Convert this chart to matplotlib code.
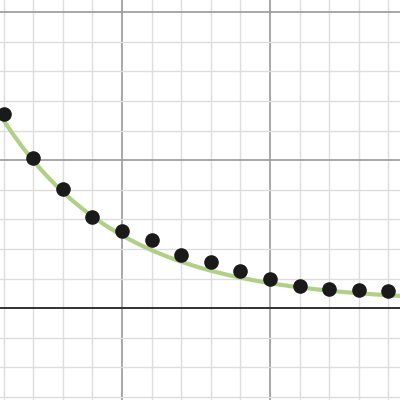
import numpy as np
import matplotlib
matplotlib.use("Agg")
import matplotlib.pyplot as plt

x_pts = [1, 2, 3, 4, 5, 6, 7, 8, 9, 10, 11, 12, 13, 14]
y_pts = [6.55, 5.07, 4.02, 3.07, 2.60, 2.30, 1.79, 1.55, 1.25, 0.98, 0.74, 0.64, 0.61, 0.57]
fit_a, fit_b, fit_c = 7.9, 0.25, 0.2

fig = plt.figure(figsize=(4, 4), dpi=100)
ax = fig.add_axes([0, 0, 1, 1])
xmin, xmax = 0.88, 0.88 + 400/29.6
ymin, ymax = -3.1, -3.1 + 400/29.6
ax.set_xlim(xmin, xmax); ax.set_ylim(ymin, ymax)
for v in range(0, 16):
    ax.axvline(v, color='#999999' if v % 5 == 0 else '#dddddd', lw=1.2 if v % 5 == 0 else 1, zorder=0)
for v in range(-4, 12):
    if v == 0:
        ax.axhline(0, color='#222222', lw=1.3, zorder=1)
    else:
        ax.axhline(v, color='#999999' if v % 5 == 0 else '#dddddd', lw=1.2 if v % 5 == 0 else 1, zorder=0)
xs = np.linspace(xmin, xmax, 300)
ax.plot(xs, fit_a*np.exp(-fit_b*xs)+fit_c, color='#b2cf88', lw=3, zorder=2)
ax.scatter(x_pts, y_pts, s=90, color='#1a1a1a', zorder=3)
ax.axis('off')
fig.savefig('out.png')
